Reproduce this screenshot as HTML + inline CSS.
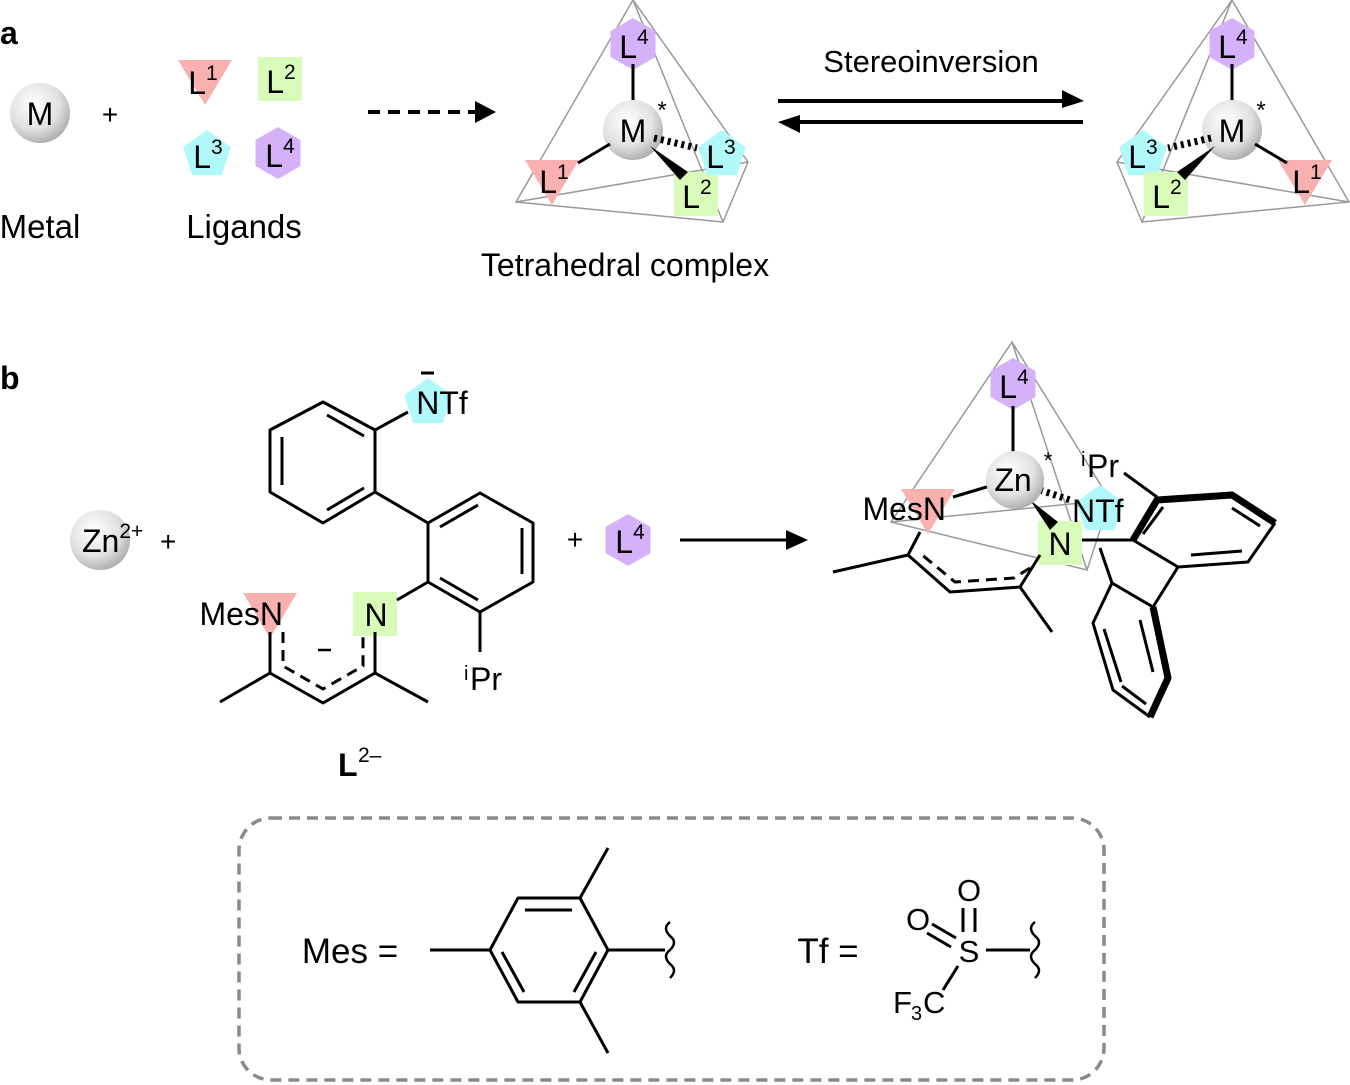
<!DOCTYPE html>
<html><head><meta charset="utf-8"><style>
html,body{margin:0;padding:0;background:#fff}
svg{display:block}
text{font-family:"Liberation Sans",Arial,sans-serif;fill:#000}
.sup{font-size:21px}
</style></head><body>
<svg width="1350" height="1085" viewBox="0 0 1350 1085" xmlns="http://www.w3.org/2000/svg">
<defs>
<radialGradient id="ball" cx="0.4" cy="0.35" r="0.7">
<stop offset="0" stop-color="#ffffff"/><stop offset="0.6" stop-color="#e2e2e2"/><stop offset="1" stop-color="#a8a8a8"/>
</radialGradient>
<polygon id="tri" points="-27,-22 27,-22 0,23" fill="#f9b1b0"/>
<rect id="sq" x="-22" y="-22" width="44" height="44" fill="#d9fbb9"/>
<polygon id="pent" points="0,-25 23.8,-7.7 14.7,20.2 -14.7,20.2 -23.8,-7.7" fill="#b1f8fb"/>
<polygon id="hex" points="0,-26 22.5,-13 22.5,13 0,26 -22.5,13 -22.5,-13" fill="#d4b1f8"/>
</defs>

<!-- ===== Part a ===== -->
<text x="0" y="44" font-size="32" font-weight="bold">a</text>
<circle cx="40" cy="113" r="30" fill="url(#ball)"/>
<text x="40" y="125" font-size="32" text-anchor="middle">M</text>
<text x="110" y="124" font-size="28" text-anchor="middle">+</text>
<use href="#tri" x="205" y="82"/>
<text x="203" y="94" font-size="32" text-anchor="middle">L<tspan class="sup" dy="-14">1</tspan></text>
<use href="#sq" x="280" y="79"/>
<text x="281" y="93" font-size="32" text-anchor="middle">L<tspan class="sup" dy="-14">2</tspan></text>
<use href="#pent" x="207" y="155"/>
<text x="208" y="168" font-size="32" text-anchor="middle">L<tspan class="sup" dy="-14">3</tspan></text>
<use href="#hex" x="278" y="153"/>
<text x="280" y="167" font-size="32" text-anchor="middle">L<tspan class="sup" dy="-14">4</tspan></text>
<text x="40" y="238" font-size="33" text-anchor="middle">Metal</text>
<text x="244" y="238" font-size="33" text-anchor="middle">Ligands</text>
<line x1="368" y1="112" x2="480" y2="112" stroke="#000" stroke-width="4" stroke-dasharray="12,8"/>
<path d="M475,101 L496,112 L475,123 Z"/>

<!-- complex 1 -->
<g stroke="#999" stroke-width="1.5" fill="none">
<path d="M633,0 L516,202 L723,222 Z M633,0 L748,162 L723,222 M516,202 L748,162"/>
</g>
<use href="#hex" x="633" y="44"/>
<text x="634" y="58" font-size="32" text-anchor="middle">L<tspan class="sup" dy="-14">4</tspan></text>
<line x1="633" y1="64" x2="633" y2="110" stroke="#000" stroke-width="3"/>
<use href="#tri" x="552" y="182"/>
<text x="554" y="193" font-size="32" text-anchor="middle">L<tspan class="sup" dy="-14">1</tspan></text>
<use href="#sq" x="696" y="194"/>
<text x="697" y="208" font-size="32" text-anchor="middle">L<tspan class="sup" dy="-14">2</tspan></text>
<use href="#pent" x="722" y="155"/>
<text x="721" y="168" font-size="32" text-anchor="middle">L<tspan class="sup" dy="-14">3</tspan></text>
<circle cx="633" cy="130" r="30" fill="url(#ball)"/>
<text x="633" y="142" font-size="32" text-anchor="middle">M</text>
<text x="662" y="118" font-size="24" text-anchor="middle">*</text>
<line x1="610" y1="144" x2="578" y2="163" stroke="#000" stroke-width="3"/>
<line x1="654" y1="138" x2="697" y2="148" stroke="#000" stroke-width="7" stroke-dasharray="3,4"/>
<path d="M650,146 L688,172 L680,180 Z"/>
<text x="625" y="276" font-size="32" text-anchor="middle">Tetrahedral complex</text>

<!-- equilibrium -->
<text x="931" y="72" font-size="31" text-anchor="middle">Stereoinversion</text>
<line x1="778" y1="101" x2="1070" y2="101" stroke="#000" stroke-width="4"/>
<path d="M1062,90 L1084,101 L1062,108 Z"/>
<line x1="792" y1="122" x2="1083" y2="122" stroke="#000" stroke-width="4"/>
<path d="M800,115 L778,122 L800,133 Z"/>

<!-- complex 2 -->
<g stroke="#999" stroke-width="1.5" fill="none">
<path d="M1232,0 L1349,202 L1142,222 Z M1232,0 L1117,162 L1142,222 M1349,202 L1117,162"/>
</g>
<use href="#hex" x="1232" y="44"/>
<text x="1233" y="58" font-size="32" text-anchor="middle">L<tspan class="sup" dy="-14">4</tspan></text>
<line x1="1232" y1="64" x2="1232" y2="110" stroke="#000" stroke-width="3"/>
<use href="#tri" x="1305" y="182"/>
<text x="1307" y="193" font-size="32" text-anchor="middle">L<tspan class="sup" dy="-14">1</tspan></text>
<use href="#pent" x="1143" y="155"/>
<text x="1143" y="168" font-size="32" text-anchor="middle">L<tspan class="sup" dy="-14">3</tspan></text>
<use href="#sq" x="1166" y="194"/>
<text x="1167" y="208" font-size="32" text-anchor="middle">L<tspan class="sup" dy="-14">2</tspan></text>
<circle cx="1232" cy="130" r="30" fill="url(#ball)"/>
<text x="1232" y="142" font-size="32" text-anchor="middle">M</text>
<text x="1261" y="118" font-size="24" text-anchor="middle">*</text>
<line x1="1255" y1="144" x2="1287" y2="163" stroke="#000" stroke-width="3"/>
<line x1="1211" y1="138" x2="1168" y2="148" stroke="#000" stroke-width="7" stroke-dasharray="3,4"/>
<path d="M1215,146 L1177,172 L1185,180 Z"/>

<!-- ===== Part b ===== -->
<text x="0" y="389" font-size="32" font-weight="bold">b</text>
<circle cx="100" cy="540" r="30" fill="url(#ball)"/>
<text x="82" y="552" font-size="32">Zn<tspan class="sup" dy="-14">2+</tspan></text>
<text x="160" y="551" font-size="28">+</text>

<!-- ligand -->
<use href="#pent" x="428" y="403"/>
<use href="#tri" x="270" y="615"/>
<use href="#sq" x="375" y="614"/>
<g stroke="#000" stroke-width="3" fill="none" stroke-linejoin="round">
<path d="M323,402 L375,430 L375,492 L323,523 L270,492 L270,430 Z"/>
<line x1="327" y1="415" x2="364" y2="436"/>
<line x1="282" y1="437" x2="282" y2="485"/>
<line x1="327" y1="510" x2="364" y2="488"/>
<line x1="375" y1="430" x2="408" y2="412"/>
<line x1="375" y1="492" x2="428" y2="523"/>
<path d="M428,523 L480,493 L533,523 L533,582 L480,612 L428,582 Z"/>
<line x1="440" y1="527" x2="478" y2="505"/>
<line x1="522" y1="528" x2="522" y2="574"/>
<line x1="440" y1="578" x2="478" y2="600"/>
<line x1="480" y1="612" x2="480" y2="652"/>
<line x1="428" y1="582" x2="397" y2="600"/>
<path d="M375,632 L375,673 L323,703 L270,673 L270,632"/>
<line x1="270" y1="673" x2="220" y2="702"/>
<line x1="375" y1="673" x2="428" y2="702"/>
<path d="M283,632 L283,666 L323,689 L363,666 L363,632" stroke-dasharray="11,7"/>
</g>
<text x="442" y="414" font-size="32" text-anchor="middle">NTf</text>
<line x1="421" y1="373" x2="434" y2="373" stroke="#000" stroke-width="3"/>
<text x="283" y="625" font-size="32" text-anchor="end">MesN</text>
<text x="376" y="626" font-size="32" text-anchor="middle">N</text>
<line x1="318" y1="650" x2="331" y2="650" stroke="#000" stroke-width="2.5"/>
<text x="464" y="680" font-size="20">i</text><text x="470" y="690" font-size="32">Pr</text>
<text x="338" y="776" font-size="32" font-weight="bold">L</text><text x="358" y="762" font-size="21">2–</text>

<text x="575" y="549" font-size="28" text-anchor="middle">+</text>
<use href="#hex" x="628" y="540"/>
<text x="630" y="553" font-size="32" text-anchor="middle">L<tspan class="sup" dy="-14">4</tspan></text>
<line x1="680" y1="540" x2="790" y2="540" stroke="#000" stroke-width="3"/>
<path d="M786,530 L808,540 L786,550 Z"/>

<!-- product -->
<g stroke="#999" stroke-width="1.5" fill="none">
<path d="M1012,342 L891,522 L1087,570 Z M1012,342 L1110,500 L1087,570 M891,522 L1110,500"/>
</g>
<use href="#hex" x="1013" y="384"/>
<text x="1014" y="398" font-size="32" text-anchor="middle">L<tspan class="sup" dy="-14">4</tspan></text>
<use href="#tri" x="928" y="511"/>
<use href="#sq" x="1060" y="543"/>
<use href="#pent" x="1100" y="510"/>
<g stroke="#000" stroke-width="3" fill="none" stroke-linejoin="round">
<line x1="1013" y1="406" x2="1013" y2="452"/>
<line x1="953" y1="497" x2="990" y2="486"/>
<path d="M1040,555 L1020,587 L950,592 L908,555 L920,532"/>
<path d="M1030,568 L1014,578 L955,582 L921,554" stroke-dasharray="11,7"/>
<line x1="908" y1="555" x2="833" y2="572"/>
<line x1="1020" y1="587" x2="1052" y2="632"/>
<line x1="1082" y1="540" x2="1133" y2="540"/>
<line x1="1124" y1="473" x2="1157" y2="497"/>
<line x1="1133" y1="540" x2="1178" y2="567"/>
<path d="M1178,567 L1248,562 L1275,523"/>
<line x1="1191" y1="555" x2="1242" y2="551"/>
<line x1="1143" y1="534" x2="1163" y2="507"/>
<line x1="1232" y1="508" x2="1260" y2="526"/>
<line x1="1178" y1="567" x2="1153" y2="607"/>
<path d="M1100,548 L1112,583 L1153,607"/>
<path d="M1112,583 L1093,623 L1113,690 L1150,717"/>
<line x1="1104" y1="629" x2="1121" y2="682"/>
<line x1="1122" y1="686" x2="1146" y2="704"/>
<line x1="1140" y1="620" x2="1153" y2="672"/>
</g>
<g stroke="#000" stroke-width="7" fill="none" stroke-linejoin="round">
<path d="M1133,540 L1157,500 L1232,495 L1275,523"/>
<path d="M1150,717 L1168,678 L1153,607"/>
</g>
<line x1="1040" y1="490" x2="1070" y2="500" stroke="#000" stroke-width="7" stroke-dasharray="3,4"/>
<path d="M1030,500 L1058,522 L1050,530 Z"/>
<circle cx="1015" cy="480" r="29" fill="url(#ball)"/>
<text x="1013" y="491" font-size="32" text-anchor="middle">Zn</text>
<text x="1048" y="468" font-size="22" text-anchor="middle">*</text>
<text x="946" y="520" font-size="32" text-anchor="end">MesN</text>
<text x="1072" y="522" font-size="32">NTf</text>
<text x="1060" y="555" font-size="32" text-anchor="middle">N</text>
<text x="1081" y="466" font-size="20">i</text><text x="1087" y="477" font-size="32">Pr</text>

<!-- box -->
<rect x="239" y="818" width="865" height="262" rx="32" fill="none" stroke="#8a8a8a" stroke-width="3.5" stroke-dasharray="11,7"/>
<text x="350" y="963" font-size="35" text-anchor="middle">Mes =</text>
<g stroke="#000" stroke-width="3" fill="none" stroke-linejoin="round">
<path d="M490,950 L518,898 L580,898 L608,950 L580,1002 L518,1002 Z"/>
<line x1="525" y1="910" x2="572" y2="910"/>
<line x1="502" y1="952" x2="524" y2="992"/>
<line x1="596" y1="952" x2="574" y2="992"/>
<line x1="490" y1="950" x2="430" y2="950"/>
<line x1="580" y1="898" x2="608" y2="848"/>
<line x1="580" y1="1002" x2="608" y2="1053"/>
<line x1="608" y1="950" x2="665" y2="950"/>
<path d="M670,922 q-8,6 0,14 q8,6 0,14 q-8,6 0,14 q8,6 0,14" stroke-width="2.5"/>
<line x1="963" y1="908" x2="963" y2="932"/>
<line x1="975" y1="908" x2="975" y2="932"/>
<line x1="932" y1="924" x2="956" y2="938"/>
<line x1="927" y1="933" x2="951" y2="947"/>
<line x1="986" y1="950" x2="1030" y2="950"/>
<line x1="958" y1="966" x2="943" y2="990"/>
<path d="M1035,922 q-8,6 0,14 q8,6 0,14 q-8,6 0,14 q8,6 0,14" stroke-width="2.5"/>
</g>
<text x="828" y="963" font-size="35" text-anchor="middle">Tf =</text>
<text x="969" y="962" font-size="31" text-anchor="middle">S</text>
<text x="969" y="901" font-size="31" text-anchor="middle">O</text>
<text x="918" y="930" font-size="31" text-anchor="middle">O</text>
<text x="893" y="1013" font-size="31">F</text><text x="911" y="1020" font-size="20">3</text><text x="923" y="1013" font-size="31">C</text>
</svg>
</body></html>
